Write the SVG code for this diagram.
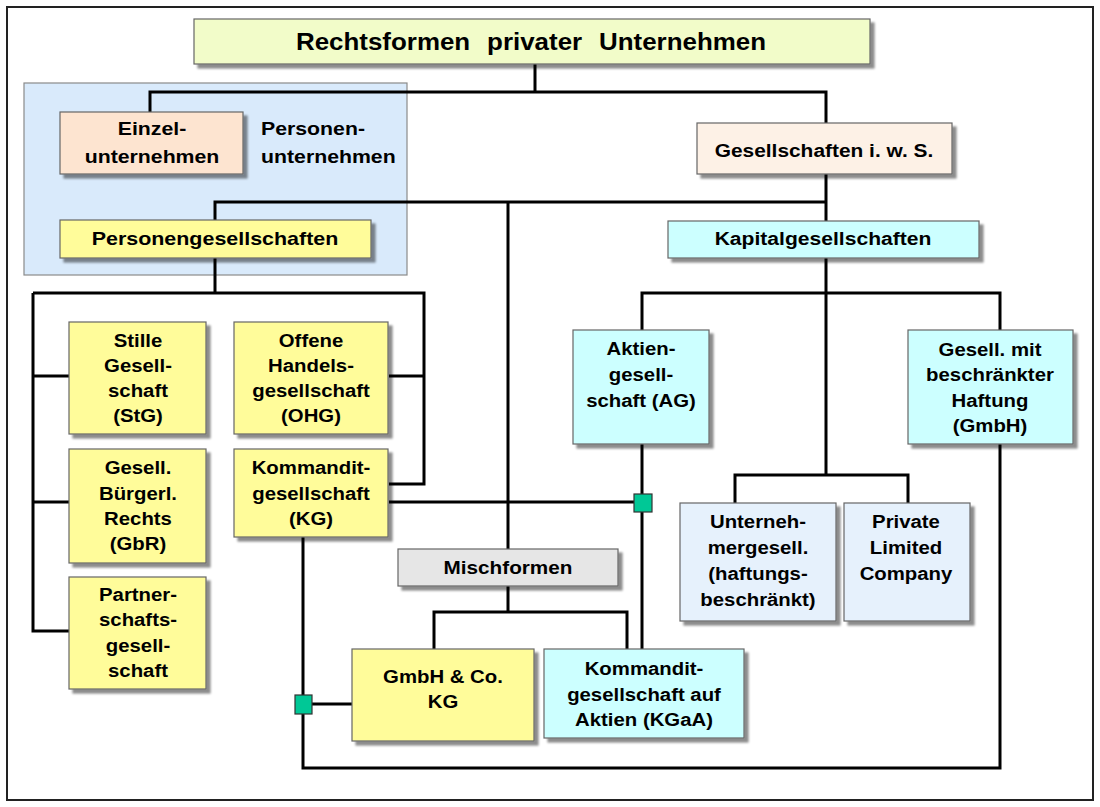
<svg xmlns="http://www.w3.org/2000/svg" width="1100" height="807" viewBox="0 0 1100 807">
<defs>
<filter id="sh" x="-10%" y="-10%" width="130%" height="130%">
<feDropShadow dx="4" dy="4" stdDeviation="1.2" flood-color="#000" flood-opacity="0.45"/>
</filter>
<style>
.box{stroke:#666;stroke-width:1.2;filter:url(#sh)}
.title{fill:#f2fcc9}
.peach{fill:#fde4d0}
.peach2{fill:#fdf1e6}
.yel{fill:#fffc9a}
.cyan{fill:#ccffff}
.lblue{fill:#e6f1fc}
.grey{fill:#e6e6e6}
.t{font-family:"Liberation Sans",Arial,sans-serif;font-weight:bold;font-size:18.5px;fill:#000;text-anchor:middle}
.tl{text-anchor:start}
.tt{font-size:24px;word-spacing:9px}
.c{fill:none;stroke:#000;stroke-width:3;stroke-linejoin:miter}
.j{fill:#00c896;stroke:#333;stroke-width:1.2}
</style>
</defs>
<rect x="0" y="0" width="1100" height="807" fill="#fff"/>
<rect x="7" y="7" width="1086" height="793" fill="#fff" stroke="#222" stroke-width="2"/>

<g id="personenunternehmen">
<rect x="24" y="83" width="383" height="192" fill="#d9eafb" stroke="#8a8a8a" stroke-width="1.2"/>
<text class="t tl" transform="translate(261 0) scale(1.15 1)"><tspan x="0" y="135">Personen-</tspan><tspan x="0" y="163">unternehmen</tspan></text>
</g>

<g id="connectors">
<path class="c" d="M535 64 V92 M150 112 V92 H826 V123"/>
<path class="c" d="M826 174 V221 M215 221 V202 H826 M508 202 V549"/>
<path class="c" d="M215 258 V293 M33 293 H424 V484 H389 M33 293 V631 H70 M33 376 H70 M33 502 H70 M424 376 H389"/>
<path class="c" d="M389 502 H634"/>
<path class="c" d="M642 444 V649"/>
<path class="c" d="M826 258 V475 M642 330 V293 H1000 V330 M735 503 V475 H908 V503"/>
<path class="c" d="M1000 444 V768 H303 V537"/>
<path class="c" d="M508 586 V612 M434 649 V612 H627 V649"/>
<path class="c" d="M312 704 H352"/>
<rect class="j" x="634" y="494" width="18" height="18"/>
<rect class="j" x="295" y="695" width="17" height="19"/>
</g>

<g id="title">
<rect class="box title" x="194" y="19" width="676" height="45"/>
<text class="t tt" transform="translate(531 0) scale(1.08 1)"><tspan x="0" y="50">Rechtsformen privater Unternehmen</tspan></text>
</g>

<g id="einzelunternehmen">
<rect class="box peach" x="60" y="112" width="183" height="62"/>
<text class="t" transform="translate(152 0) scale(1.15 1)"><tspan x="0" y="135">Einzel-</tspan><tspan x="0" y="163">unternehmen</tspan></text>
</g>

<g id="gesellschaften">
<rect class="box peach2" x="697" y="123" width="255" height="51"/>
<text class="t" transform="translate(824 0) scale(1.13 1)"><tspan x="0" y="157">Gesellschaften i. w. S.</tspan></text>
</g>

<g id="personengesellschaften">
<rect class="box yel" x="60" y="220" width="311" height="38"/>
<text class="t" transform="translate(215 0) scale(1.16 1)"><tspan x="0" y="245">Personengesellschaften</tspan></text>
</g>

<g id="kapitalgesellschaften">
<rect class="box cyan" x="668" y="221" width="311" height="37"/>
<text class="t" transform="translate(823 0) scale(1.14 1)"><tspan x="0" y="245">Kapitalgesellschaften</tspan></text>
</g>

<g id="stg">
<rect class="box yel" x="69" y="322" width="137" height="112"/>
<text class="t" transform="translate(138 0) scale(1.1 1)"><tspan x="0" y="347">Stille</tspan><tspan x="0" y="372">Gesell-</tspan><tspan x="0" y="397">schaft</tspan><tspan x="0" y="422">(StG)</tspan></text>
</g>

<g id="ohg">
<rect class="box yel" x="234" y="322" width="154" height="112"/>
<text class="t" transform="translate(311 0) scale(1.1 1)"><tspan x="0" y="347">Offene</tspan><tspan x="0" y="372">Handels-</tspan><tspan x="0" y="397">gesellschaft</tspan><tspan x="0" y="422">(OHG)</tspan></text>
</g>

<g id="gbr">
<rect class="box yel" x="69" y="449" width="137" height="114"/>
<text class="t" transform="translate(138 0) scale(1.1 1)"><tspan x="0" y="474">Gesell.</tspan><tspan x="0" y="500">Bürgerl.</tspan><tspan x="0" y="525">Rechts</tspan><tspan x="0" y="550">(GbR)</tspan></text>
</g>

<g id="kg">
<rect class="box yel" x="234" y="449" width="154" height="88"/>
<text class="t" transform="translate(311 0) scale(1.1 1)"><tspan x="0" y="474">Kommandit-</tspan><tspan x="0" y="500">gesellschaft</tspan><tspan x="0" y="525">(KG)</tspan></text>
</g>

<g id="partnerschaftsgesellschaft">
<rect class="box yel" x="69" y="577" width="137" height="112"/>
<text class="t" transform="translate(138 0) scale(1.1 1)"><tspan x="0" y="601">Partner-</tspan><tspan x="0" y="626">schafts-</tspan><tspan x="0" y="652">gesell-</tspan><tspan x="0" y="677">schaft</tspan></text>
</g>

<g id="ag">
<rect class="box cyan" x="573" y="330" width="136" height="114"/>
<text class="t" transform="translate(641 0) scale(1.1 1)"><tspan x="0" y="355">Aktien-</tspan><tspan x="0" y="381">gesell-</tspan><tspan x="0" y="407">schaft (AG)</tspan></text>
</g>

<g id="gmbh">
<rect class="box cyan" x="908" y="330" width="165" height="114"/>
<text class="t" transform="translate(990 0) scale(1.1 1)"><tspan x="0" y="356">Gesell. mit</tspan><tspan x="0" y="381">beschränkter</tspan><tspan x="0" y="407">Haftung</tspan><tspan x="0" y="432">(GmbH)</tspan></text>
</g>

<g id="ug">
<rect class="box lblue" x="680" y="503" width="156" height="118"/>
<text class="t" transform="translate(758 0) scale(1.1 1)"><tspan x="0" y="528">Unterneh-</tspan><tspan x="0" y="554">mergesell.</tspan><tspan x="0" y="580">(haftungs-</tspan><tspan x="0" y="606">beschränkt)</tspan></text>
</g>

<g id="private">
<rect class="box lblue" x="844" y="503" width="126" height="118"/>
<text class="t" transform="translate(906 0) scale(1.1 1)"><tspan x="0" y="528">Private</tspan><tspan x="0" y="554">Limited</tspan><tspan x="0" y="580">Company</tspan></text>
</g>

<g id="mischformen">
<rect class="box grey" x="398" y="549" width="220" height="37"/>
<text class="t" transform="translate(508 0) scale(1.12 1)"><tspan x="0" y="574">Mischformen</tspan></text>
</g>

<g id="gmbhcokg">
<rect class="box yel" x="352" y="649" width="182" height="92"/>
<text class="t" transform="translate(443 0) scale(1.1 1)"><tspan x="0" y="683">GmbH &amp; Co.</tspan><tspan x="0" y="708">KG</tspan></text>
</g>

<g id="kgaa">
<rect class="box cyan" x="544" y="649" width="200" height="89"/>
<text class="t" transform="translate(644 0) scale(1.1 1)"><tspan x="0" y="675">Kommandit-</tspan><tspan x="0" y="701">gesellschaft auf</tspan><tspan x="0" y="726">Aktien (KGaA)</tspan></text>
</g>
</svg>
